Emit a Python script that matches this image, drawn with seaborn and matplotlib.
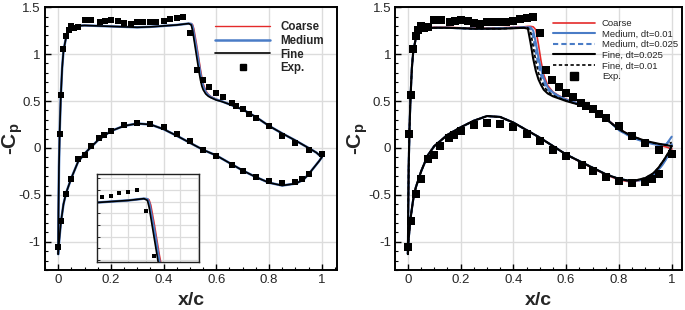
import matplotlib
matplotlib.use("Agg")
import matplotlib.pyplot as plt
from matplotlib.lines import Line2D
from matplotlib.ticker import MultipleLocator
import seaborn as sns

# ---------------- experiment (same in both panels)
exp_up_x = [0, 0.006, 0.01, 0.02, 0.03, 0.04, 0.05, 0.06, 0.076, 0.1, 0.125, 0.158, 0.177,
            0.2, 0.228, 0.25, 0.275, 0.3, 0.322, 0.35, 0.373, 0.4, 0.424, 0.45, 0.475, 0.5,
            0.525, 0.548, 0.573, 0.6, 0.624, 0.658, 0.675, 0.7, 0.725, 0.75, 0.8, 0.85, 0.9,
            0.95, 1.0]
exp_up_cp = [-1.06, 0.15, 0.56, 1.05, 1.19, 1.26, 1.30, 1.28, 1.29, 1.36, 1.36, 1.34, 1.35,
             1.36, 1.35, 1.33, 1.32, 1.34, 1.34, 1.34, 1.34, 1.35, 1.37, 1.38, 1.40, 1.22,
             0.83, 0.72, 0.65, 0.59, 0.54, 0.48, 0.45, 0.41, 0.36, 0.32, 0.23, 0.13, 0.05,
             -0.02, -0.06]
exp_lo_x = [0.01, 0.03, 0.048, 0.076, 0.1, 0.123, 0.156, 0.175, 0.2, 0.25, 0.3, 0.35, 0.4,
            0.45, 0.5, 0.55, 0.6, 0.66, 0.7, 0.75, 0.8, 0.85, 0.9, 0.925, 0.95]
exp_lo_cp = [-0.78, -0.49, -0.33, -0.12, -0.08, 0.02, 0.11, 0.14, 0.18, 0.24, 0.27, 0.26, 0.22,
             0.15, 0.07, -0.02, -0.09, -0.18, -0.25, -0.31, -0.35, -0.37, -0.36, -0.33, -0.28]

# ---------------- left panel: grid study (upper / lower surface)
xu_l = [0, 0.001, 0.003, 0.006, 0.01, 0.015, 0.02, 0.03, 0.04, 0.05, 0.07, 0.1, 0.15, 0.2,
        0.25, 0.3, 0.35, 0.4, 0.45, 0.48, 0.495, 0.505, 0.51, 0.515, 0.52, 0.525, 0.53, 0.535,
        0.54, 0.545, 0.55, 0.56, 0.57, 0.58, 0.6, 0.62, 0.65, 0.7, 0.75, 0.8, 0.85, 0.9, 0.95,
        0.98, 1.0]
up_l_fine = [-1.13, -0.7, -0.2, 0.2, 0.55, 0.85, 1.03, 1.18, 1.25, 1.28, 1.30, 1.305, 1.30,
             1.295, 1.29, 1.285, 1.29, 1.30, 1.31, 1.32, 1.325, 1.31, 1.25, 1.16, 1.07, 0.98,
             0.89, 0.80, 0.72, 0.66, 0.62, 0.575, 0.55, 0.535, 0.51, 0.495, 0.465, 0.41, 0.33,
             0.235, 0.155, 0.08, 0.0, -0.05, -0.1]
up_l_medium = [-1.13, -0.7, -0.2, 0.2, 0.55, 0.85, 1.03, 1.18, 1.25, 1.28, 1.30, 1.305, 1.30,
               1.295, 1.29, 1.285, 1.29, 1.30, 1.31, 1.32, 1.325, 1.32, 1.29, 1.21, 1.13, 1.05,
               0.96, 0.87, 0.78, 0.71, 0.655, 0.59, 0.56, 0.54, 0.515, 0.498, 0.465, 0.41,
               0.33, 0.235, 0.155, 0.08, 0.0, -0.05, -0.1]
up_l_coarse = [-1.13, -0.7, -0.2, 0.2, 0.55, 0.85, 1.03, 1.18, 1.25, 1.28, 1.30, 1.305, 1.30,
               1.295, 1.29, 1.285, 1.29, 1.30, 1.31, 1.32, 1.325, 1.325, 1.315, 1.27, 1.19,
               1.11, 1.02, 0.93, 0.84, 0.76, 0.69, 0.61, 0.57, 0.548, 0.52, 0.50, 0.467, 0.41,
               0.33, 0.235, 0.155, 0.08, 0.0, -0.05, -0.1]
xl = [0, 0.002, 0.005, 0.01, 0.02, 0.03, 0.05, 0.075, 0.1, 0.15, 0.2, 0.25, 0.3, 0.35, 0.4,
      0.45, 0.5, 0.55, 0.6, 0.65, 0.7, 0.75, 0.8, 0.85, 0.9, 0.93, 0.95, 0.97, 0.99, 1.0]
lo_l = [-1.13, -1.05, -0.95, -0.8, -0.6, -0.48, -0.32, -0.15, -0.06, 0.08, 0.18, 0.235, 0.26,
        0.25, 0.2, 0.13, 0.055, -0.02, -0.08, -0.16, -0.24, -0.31, -0.37, -0.40, -0.38, -0.34,
        -0.28, -0.21, -0.14, -0.1]

# ---------------- right panel: grid + time step study
xu_r = [0, 0.001, 0.003, 0.006, 0.01, 0.015, 0.02, 0.03, 0.04, 0.05, 0.07, 0.1, 0.15, 0.2,
        0.25, 0.3, 0.35, 0.4, 0.44, 0.455, 0.465, 0.475, 0.485, 0.495, 0.505, 0.515, 0.53,
        0.55, 0.57, 0.6, 0.65, 0.7, 0.75, 0.8, 0.85, 0.9, 0.95, 0.98, 1.0]
up_r_coarse = [-1.13, -0.7, -0.2, 0.2, 0.55, 0.85, 1.02, 1.17, 1.23, 1.26, 1.28, 1.285, 1.285,
               1.28, 1.275, 1.275, 1.28, 1.285, 1.29, 1.295, 1.295, 1.29, 1.26, 1.10, 0.92,
               0.78, 0.665, 0.595, 0.56, 0.52, 0.47, 0.41, 0.32, 0.2, 0.125, 0.07, 0.03, 0.01,
               -0.01]
up_r_med_01 = [-1.13, -0.7, -0.2, 0.2, 0.55, 0.85, 1.02, 1.17, 1.23, 1.26, 1.275, 1.28, 1.28,
               1.275, 1.27, 1.27, 1.275, 1.28, 1.285, 1.285, 1.285, 1.25, 1.12, 0.96, 0.84,
               0.74, 0.645, 0.59, 0.555, 0.515, 0.47, 0.41, 0.32, 0.19, 0.11, 0.06, 0.03, 0.04,
               0.12]
up_r_med_025 = [-1.13, -0.7, -0.2, 0.2, 0.55, 0.85, 1.02, 1.17, 1.23, 1.26, 1.275, 1.28, 1.28,
                1.275, 1.27, 1.27, 1.275, 1.28, 1.285, 1.285, 1.28, 1.18, 1.02, 0.88, 0.77,
                0.69, 0.62, 0.575, 0.545, 0.51, 0.465, 0.405, 0.315, 0.19, 0.115, 0.065, 0.035,
                0.04, 0.1]
up_r_fine_025 = [-1.13, -0.7, -0.2, 0.2, 0.55, 0.85, 1.02, 1.17, 1.23, 1.26, 1.275, 1.28, 1.28,
                 1.275, 1.27, 1.27, 1.27, 1.275, 1.28, 1.27, 1.12, 0.95, 0.82, 0.73, 0.67, 0.62,
                 0.58, 0.55, 0.53, 0.50, 0.46, 0.40, 0.31, 0.2, 0.125, 0.075, 0.045, 0.03, 0.02]
up_r_fine_01 = [-1.13, -0.7, -0.2, 0.2, 0.55, 0.85, 1.02, 1.17, 1.23, 1.26, 1.275, 1.28, 1.28,
                1.275, 1.27, 1.27, 1.27, 1.275, 1.28, 1.28, 1.24, 1.08, 0.92, 0.80, 0.72, 0.66,
                0.60, 0.56, 0.535, 0.505, 0.46, 0.40, 0.31, 0.2, 0.125, 0.075, 0.04, 0.03, 0.06]
lo_r_coarse = [-1.13, -1.0, -0.9, -0.75, -0.55, -0.42, -0.25, -0.08, 0.02, 0.14, 0.22, 0.29,
               0.34, 0.33, 0.27, 0.19, 0.11, 0.02, -0.07, -0.145, -0.215, -0.285, -0.34, -0.365,
               -0.33, -0.28, -0.22, -0.15, -0.06, -0.01]
lo_r_medium = [-1.13, -1.0, -0.9, -0.75, -0.55, -0.42, -0.25, -0.08, 0.02, 0.14, 0.22, 0.29,
               0.34, 0.33, 0.27, 0.19, 0.11, 0.02, -0.07, -0.14, -0.21, -0.28, -0.33, -0.355,
               -0.335, -0.29, -0.23, -0.16, -0.06, 0.04]
lo_r_fine = [-1.13, -1.0, -0.9, -0.75, -0.55, -0.42, -0.25, -0.08, 0.02, 0.14, 0.22, 0.29,
             0.34, 0.33, 0.27, 0.19, 0.11, 0.02, -0.07, -0.14, -0.21, -0.28, -0.33, -0.355,
             -0.32, -0.27, -0.21, -0.13, -0.04, 0.02]

RED = "#e42a2a"
BLUE = "#4a7cc6"

sns.set_style("ticks")
plt.rcParams["font.family"] = ["Liberation Sans", "DejaVu Sans"]
plt.rcParams["axes.unicode_minus"] = False
plt.rcParams["mathtext.fontset"] = "custom"
plt.rcParams["mathtext.bf"] = "Liberation Sans:bold"
plt.rcParams["mathtext.rm"] = "Liberation Sans"


def curve(ax, x, y, color, lw, ls="-"):
    sns.lineplot(x=x, y=y, ax=ax, color=color, lw=lw, ls=ls, sort=False,
                 estimator=None, legend=False)


def exp_pts(ax, s):
    sns.scatterplot(x=exp_up_x, y=exp_up_cp, ax=ax, marker="s", color="black", s=s,
                    linewidth=0, legend=False, zorder=5)
    sns.scatterplot(x=exp_lo_x, y=exp_lo_cp, ax=ax, marker="s", color="black", s=s,
                    linewidth=0, legend=False, zorder=5)


def style_main(ax, xlim, lab_x):
    ax.set_xlim(*xlim)
    ax.set_ylim(-1.3, 1.5)
    ax.xaxis.set_major_locator(MultipleLocator(0.2))
    ax.xaxis.set_minor_locator(MultipleLocator(0.05))
    ax.yaxis.set_major_locator(MultipleLocator(0.5))
    ax.yaxis.set_minor_locator(MultipleLocator(0.1))
    ax.xaxis.set_major_formatter(lambda v, p: f"{v:g}")
    ax.yaxis.set_major_formatter(lambda v, p: f"{v:g}")
    ax.grid(True, which="major", color="#dcdcdc", lw=1.0)
    ax.set_axisbelow(True)
    ax.tick_params(which="both", direction="in", top=False, right=False, color="black")
    ax.tick_params(which="major", length=4, width=1, labelsize=9.5, pad=3)
    ax.tick_params(which="minor", length=2.2, width=0.8)
    for sp in ax.spines.values():
        sp.set_visible(True)
        sp.set_color("black")
        sp.set_linewidth(1.4)
    ax.set_xlabel("x/c", fontsize=14, fontweight="bold")
    ax.set_ylabel(r"-C$_\mathbf{p}$", fontsize=15, fontweight="bold")
    ax.xaxis.set_label_coords(0.5, -0.082)
    ax.yaxis.set_label_coords(lab_x, 0.5)


fig = plt.figure(figsize=(6.85, 3.10), dpi=100)
ax1 = fig.add_axes([0.0657, 0.129, 0.4263, 0.848])
ax2 = fig.add_axes([0.577, 0.129, 0.4186, 0.848])

# ---- left
for y_up, col, lw in [(up_l_coarse, RED, 1.0), (up_l_medium, BLUE, 1.8), (up_l_fine, "black", 1.2)]:
    curve(ax1, xu_l, y_up, col, lw)
    curve(ax1, xl, lo_l, col, lw)
exp_pts(ax1, 20)
style_main(ax1, (-0.05, 1.058), -0.07)

h1 = [Line2D([], [], color=RED, lw=1.0), Line2D([], [], color=BLUE, lw=1.8),
      Line2D([], [], color="black", lw=1.2),
      Line2D([], [], color="black", ls="none", marker="s", ms=4.5)]
ax1.legend(h1, ["Coarse", "Medium", "Fine", "Exp."], loc="upper left",
           bbox_to_anchor=(0.582, 0.947), frameon=False, borderpad=0, borderaxespad=0,
           handlelength=4.8, handletextpad=0.85, labelspacing=0.15,
           prop={"size": 8.3, "weight": "bold"})

# ---- inset
axi = fig.add_axes([0.142, 0.156, 0.149, 0.282])
for y_up, col, lw in [(up_l_coarse, RED, 1.0), (up_l_medium, BLUE, 1.8), (up_l_fine, "black", 1.2)]:
    curve(axi, xu_l, y_up, col, lw)
sns.scatterplot(x=exp_up_x, y=exp_up_cp, ax=axi, marker="s", color="black", s=7,
                linewidth=0, legend=False, zorder=5)
axi.set_xlim(0.36, 0.655)
axi.set_ylim(0.786, 1.534)
axi.xaxis.set_major_locator(MultipleLocator(0.05))
axi.yaxis.set_major_locator(MultipleLocator(0.1))
axi.set_xticks([0.4, 0.55], minor=True)
axi.grid(True, which="major", color="#dcdcdc", lw=0.9)
axi.set_axisbelow(True)
axi.tick_params(which="major", axis="x", length=0, labelbottom=False)
axi.tick_params(which="minor", axis="x", length=3, direction="in", width=0.8)
axi.tick_params(which="major", axis="y", length=2.5, direction="in", width=0.7, labelleft=False)
axi.set_xlabel("")
axi.set_ylabel("")
for sp in axi.spines.values():
    sp.set_visible(True)
    sp.set_color("#222222")
    sp.set_linewidth(1.0)

# ---- right
curve(ax2, xu_r, up_r_coarse, RED, 1.2)
curve(ax2, xl, lo_r_coarse, RED, 1.2)
curve(ax2, xu_r, up_r_med_01, BLUE, 1.5)
curve(ax2, xl, lo_r_medium, BLUE, 1.5)
curve(ax2, xu_r, up_r_med_025, BLUE, 1.5, (0, (2.5, 1.5)))
curve(ax2, xl, lo_r_medium, BLUE, 1.5, (0, (2.5, 1.5)))
curve(ax2, xu_r, up_r_fine_025, "black", 1.5)
curve(ax2, xl, lo_r_fine, "black", 1.5)
curve(ax2, xu_r, up_r_fine_01, "black", 1.2, (0, (2, 1.5)))
curve(ax2, xl, lo_r_fine, "black", 1.2, (0, (2, 1.5)))
exp_pts(ax2, 34)
style_main(ax2, (-0.048, 1.039), -0.087)

h2 = [Line2D([], [], color=RED, lw=1.2), Line2D([], [], color=BLUE, lw=1.5),
      Line2D([], [], color=BLUE, lw=1.5, ls=(0, (2.5, 1.5))),
      Line2D([], [], color="black", lw=1.5),
      Line2D([], [], color="black", lw=1.2, ls=(0, (2, 1.5))),
      Line2D([], [], color="black", ls="none", marker="s", ms=5.5)]
ax2.legend(h2, ["Coarse", "Medium, dt=0.01", "Medium, dt=0.025", "Fine, dt=0.025",
                "Fine, dt=0.01", "Exp."], loc="upper left",
           bbox_to_anchor=(0.55, 0.955), frameon=False, borderpad=0, borderaxespad=0,
           handlelength=4.45, handletextpad=0.74, labelspacing=0.17, prop={"size": 6.8})

fig.savefig("out.png", dpi=100)
